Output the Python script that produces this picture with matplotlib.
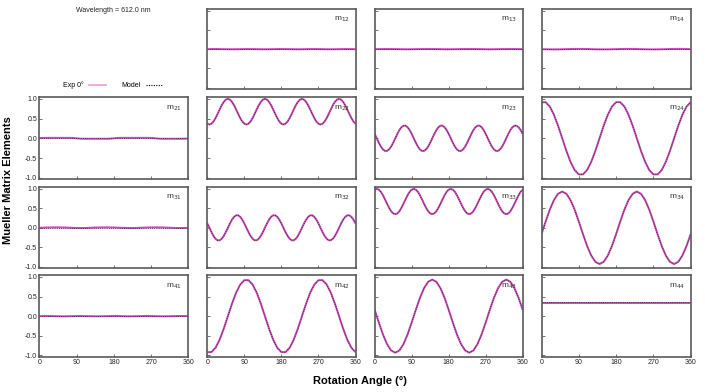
import matplotlib
matplotlib.use('Agg')
import matplotlib.pyplot as plt
from matplotlib.lines import Line2D

plt.rcParams['font.family'] = ['Liberation Sans', 'DejaVu Sans']
plt.rcParams['axes.unicode_minus'] = False

# ---------------- data ----------------
angles5 = list(range(0, 361, 5))
angles10 = list(range(0, 361, 10))

m22 = [0.370, 0.350, 0.370, 0.426, 0.513, 0.619, 0.731, 0.838, 0.924, 0.980, 1.000, 0.980, 0.924, 0.838, 0.731, 0.619, 0.513, 0.426,
       0.370, 0.350, 0.370, 0.426, 0.513, 0.619, 0.731, 0.838, 0.924, 0.980, 1.000, 0.980, 0.924, 0.838, 0.731, 0.619, 0.513, 0.426,
       0.370, 0.350, 0.370, 0.426, 0.513, 0.619, 0.731, 0.838, 0.924, 0.980, 1.000, 0.980, 0.924, 0.838, 0.731, 0.619, 0.513, 0.426,
       0.370, 0.350, 0.370, 0.426, 0.513, 0.619, 0.731, 0.838, 0.924, 0.980, 1.000, 0.980, 0.924, 0.838, 0.731, 0.619, 0.513, 0.426,
       0.370]

m33 = [0.980, 1.000, 0.980, 0.924, 0.838, 0.731, 0.619, 0.513, 0.426, 0.370, 0.350, 0.370, 0.426, 0.513, 0.619, 0.731, 0.838, 0.924,
       0.980, 1.000, 0.980, 0.924, 0.838, 0.731, 0.619, 0.513, 0.426, 0.370, 0.350, 0.370, 0.426, 0.513, 0.619, 0.731, 0.838, 0.924,
       0.980, 1.000, 0.980, 0.924, 0.838, 0.731, 0.619, 0.513, 0.426, 0.370, 0.350, 0.370, 0.426, 0.513, 0.619, 0.731, 0.838, 0.924,
       0.980, 1.000, 0.980, 0.924, 0.838, 0.731, 0.619, 0.513, 0.426, 0.370, 0.350, 0.370, 0.426, 0.513, 0.619, 0.731, 0.838, 0.924,
       0.980]

m23 = [0.111, 0.000, -0.111, -0.209, -0.281, -0.320, -0.320, -0.281, -0.209, -0.111, 0.000, 0.111, 0.209, 0.281, 0.320, 0.320, 0.281, 0.209,
       0.111, 0.000, -0.111, -0.209, -0.281, -0.320, -0.320, -0.281, -0.209, -0.111, 0.000, 0.111, 0.209, 0.281, 0.320, 0.320, 0.281, 0.209,
       0.111, 0.000, -0.111, -0.209, -0.281, -0.320, -0.320, -0.281, -0.209, -0.111, 0.000, 0.111, 0.209, 0.281, 0.320, 0.320, 0.281, 0.209,
       0.111, 0.000, -0.111, -0.209, -0.281, -0.320, -0.320, -0.281, -0.209, -0.111, 0.000, 0.111, 0.209, 0.281, 0.320, 0.320, 0.281, 0.209,
       0.111]

m32 = [0.111, 0.000, -0.111, -0.209, -0.281, -0.320, -0.320, -0.281, -0.209, -0.111, 0.000, 0.111, 0.209, 0.281, 0.320, 0.320, 0.281, 0.209,
       0.111, 0.000, -0.111, -0.209, -0.281, -0.320, -0.320, -0.281, -0.209, -0.111, 0.000, 0.111, 0.209, 0.281, 0.320, 0.320, 0.281, 0.209,
       0.111, 0.000, -0.111, -0.209, -0.281, -0.320, -0.320, -0.281, -0.209, -0.111, 0.000, 0.111, 0.209, 0.281, 0.320, 0.320, 0.281, 0.209,
       0.111, 0.000, -0.111, -0.209, -0.281, -0.320, -0.320, -0.281, -0.209, -0.111, 0.000, 0.111, 0.209, 0.281, 0.320, 0.320, 0.281, 0.209,
       0.111]

m24 = [0.916, 0.916, 0.805, 0.598, 0.318, 0.000, -0.318, -0.598, -0.805, -0.916, -0.916, -0.805, -0.598, -0.318, 0.000, 0.318, 0.598, 0.805,
       0.916, 0.916, 0.805, 0.598, 0.318, 0.000, -0.318, -0.598, -0.805, -0.916, -0.916, -0.805, -0.598, -0.318, 0.000, 0.318, 0.598, 0.805,
       0.916]

m34 = [-0.161, 0.161, 0.465, 0.712, 0.874, 0.930, 0.874, 0.712, 0.465, 0.161, -0.161, -0.465, -0.712, -0.874, -0.930, -0.874, -0.712, -0.465,
       -0.161, 0.161, 0.465, 0.712, 0.874, 0.930, 0.874, 0.712, 0.465, 0.161, -0.161, -0.465, -0.712, -0.874, -0.930, -0.874, -0.712, -0.465,
       -0.161]

m42 = [-0.916, -0.916, -0.805, -0.598, -0.318, 0.000, 0.318, 0.598, 0.805, 0.916, 0.916, 0.805, 0.598, 0.318, 0.000, -0.318, -0.598, -0.805,
       -0.916, -0.916, -0.805, -0.598, -0.318, 0.000, 0.318, 0.598, 0.805, 0.916, 0.916, 0.805, 0.598, 0.318, 0.000, -0.318, -0.598, -0.805,
       -0.916]

m43 = [0.161, -0.161, -0.465, -0.712, -0.874, -0.930, -0.874, -0.712, -0.465, -0.161, 0.161, 0.465, 0.712, 0.874, 0.930, 0.874, 0.712, 0.465,
       0.161, -0.161, -0.465, -0.712, -0.874, -0.930, -0.874, -0.712, -0.465, -0.161, 0.161, 0.465, 0.712, 0.874, 0.930, 0.874, 0.712, 0.465,
       0.161]

# near-zero experimental elements (10 deg steps)
m12_exp = [0.000, 0.003, 0.004, 0.002, 0.000, -0.002, -0.003, -0.002, 0.000, 0.002, 0.003, 0.002, 0.000, -0.002, -0.003, -0.002, 0.000, 0.002, 0.003,
           0.002, 0.000, -0.002, -0.003, -0.002, 0.000, 0.002, 0.003, 0.002, 0.000, -0.002, -0.003, -0.002, 0.000, 0.002, 0.003, 0.002, 0.000]
m13_exp = [0.000, 0.002, 0.003, 0.004, 0.003, 0.002, 0.000, -0.002, -0.003, -0.002, 0.000, 0.002, 0.003, 0.004, 0.003, 0.002, 0.000, -0.002, -0.003,
           -0.002, 0.000, 0.002, 0.003, 0.004, 0.003, 0.002, 0.000, -0.002, -0.003, -0.002, 0.000, 0.002, 0.003, 0.004, 0.003, 0.002, 0.000]
m14_exp = [0.000, -0.003, -0.005, -0.006, -0.005, -0.003, 0.000, 0.004, 0.006, 0.007, 0.006, 0.004, 0.000, -0.003, -0.005, -0.006, -0.005, -0.003, 0.000,
           0.004, 0.006, 0.007, 0.006, 0.004, 0.000, -0.003, -0.005, -0.006, -0.005, -0.003, 0.000, 0.004, 0.006, 0.007, 0.006, 0.004, 0.000]
m21_exp = [0.008, 0.010, 0.012, 0.012, 0.012, 0.012, 0.012, 0.012, 0.010, 0.000, -0.010, -0.012, -0.012, -0.012, -0.012, -0.012, -0.012, -0.010, 0.000,
           0.010, 0.012, 0.012, 0.012, 0.012, 0.012, 0.012, 0.012, 0.010, 0.000, -0.010, -0.012, -0.012, -0.012, -0.012, -0.012, -0.010, -0.008]
m31_exp = [0.000, 0.004, 0.008, 0.010, 0.012, 0.010, 0.008, 0.004, 0.000, -0.003, -0.005, -0.004, 0.000, 0.004, 0.008, 0.010, 0.012, 0.010, 0.008,
           0.004, 0.000, -0.003, -0.005, -0.004, 0.000, 0.004, 0.008, 0.010, 0.012, 0.010, 0.008, 0.004, 0.000, -0.003, -0.005, -0.004, 0.000]
m41_exp = [0.000, 0.002, 0.004, 0.003, 0.000, -0.003, -0.004, -0.002, 0.000, 0.003, 0.004, 0.002, 0.000, -0.002, -0.004, -0.003, 0.000, 0.002, 0.004,
           0.003, 0.000, -0.003, -0.004, -0.002, 0.000, 0.003, 0.004, 0.002, 0.000, -0.002, -0.004, -0.003, 0.000, 0.002, 0.004, 0.003, 0.000]
zero_model = [0.0] * 37
m44_exp = [0.34] * 37
m44_model = [0.355] * 37

y_ticks = [-1.0, -0.5, 0.0, 0.5, 1.0]
y_tick_labels = ['-1.0', '-0.5', '0.0', '0.5', '1.0']
x_ticks = [0, 90, 180, 270, 360]
x_tick_labels = ['0', '90', '180', '270', '360']

panels = {
    (0, 1): ('12', angles10, m12_exp, zero_model),
    (0, 2): ('13', angles10, m13_exp, zero_model),
    (0, 3): ('14', angles10, m14_exp, zero_model),
    (1, 0): ('21', angles10, m21_exp, zero_model),
    (1, 1): ('22', angles5, m22, m22),
    (1, 2): ('23', angles5, m23, m23),
    (1, 3): ('24', angles10, m24, m24),
    (2, 0): ('31', angles10, m31_exp, zero_model),
    (2, 1): ('32', angles5, m32, m32),
    (2, 2): ('33', angles5, m33, m33),
    (2, 3): ('34', angles10, m34, m34),
    (3, 0): ('41', angles10, m41_exp, zero_model),
    (3, 1): ('42', angles10, m42, m42),
    (3, 2): ('43', angles10, m43, m43),
    (3, 3): ('44', angles10, m44_exp, m44_model),
}

# ---------------- figure ----------------
W, H = 705, 392
fig = plt.figure(figsize=(W / 100, H / 100), dpi=100)
fig.patch.set_facecolor('white')

cols = [(39.3, 188.3), (207.3, 355.5), (374.7, 522.7), (541.5, 690.7)]
rows = [(9.0, 89.3), (97.3, 179.3), (187.3, 268.3), (275.3, 357.0)]

EXP_COLOR = '#cc48b8'
SPINE = '#5a5a5a'
MODEL_DASH = (0, (1, 1.6))

for (r, c), (name, xs, ye, ym) in panels.items():
    x0, x1 = cols[c]
    y0, y1 = rows[r]
    ax = fig.add_axes([x0 / W, 1 - y1 / H, (x1 - x0) / W, (y1 - y0) / H])
    ax.plot(xs, ye, color=EXP_COLOR, lw=1.4, solid_capstyle='butt')
    ax.plot(xs, ym, color='#222222', lw=0.6, ls=MODEL_DASH)
    ax.set_xlim(0, 360)
    ax.set_ylim(-1.04, 1.04)
    ax.set_xticks(x_ticks)
    ax.set_yticks(y_ticks)
    if r == 3:
        ax.set_xticklabels(x_tick_labels)
    else:
        ax.set_xticklabels([])
    if c == 0:
        ax.set_yticklabels(y_tick_labels)
    else:
        ax.set_yticklabels([])
    ax.tick_params(direction='in', length=2.5, width=0.6, colors=SPINE,
                   labelsize=5, labelcolor='#222222', pad=1.5)
    for s in ax.spines.values():
        s.set_linewidth(1.2)
        s.set_color(SPINE)
    ax.text(0.96, 0.93, 'm$_{' + name + '}$', transform=ax.transAxes,
            ha='right', va='top', fontsize=6, color='#333333')

fig.text(113 / W, 1 - 11 / H, 'Wavelength = 612.0 nm', ha='center', va='center',
         fontsize=5, color='#222222')

handles = [Line2D([], [], color='#e8a0d8', lw=1.2),
           Line2D([], [], color='black', lw=0.8, ls=(0, (1, 1.2)))]
fig.legend(handles, ['Exp 0°', 'Model'], loc='center',
           bbox_to_anchor=(113 / W, 1 - 85.5 / H), ncol=2, frameon=False,
           fontsize=5, markerfirst=False, handlelength=2.4, columnspacing=2.2,
           handletextpad=0.8)

fig.text(8 / W, 1 - 180 / H, 'Mueller Matrix Elements', rotation=90,
         ha='center', va='center', fontsize=8, fontweight='bold')
fig.text(360 / W, 1 - 381 / H, 'Rotation Angle (°)', ha='center', va='center',
         fontsize=8, fontweight='bold')

fig.savefig('out.png', dpi=100, facecolor='white')
